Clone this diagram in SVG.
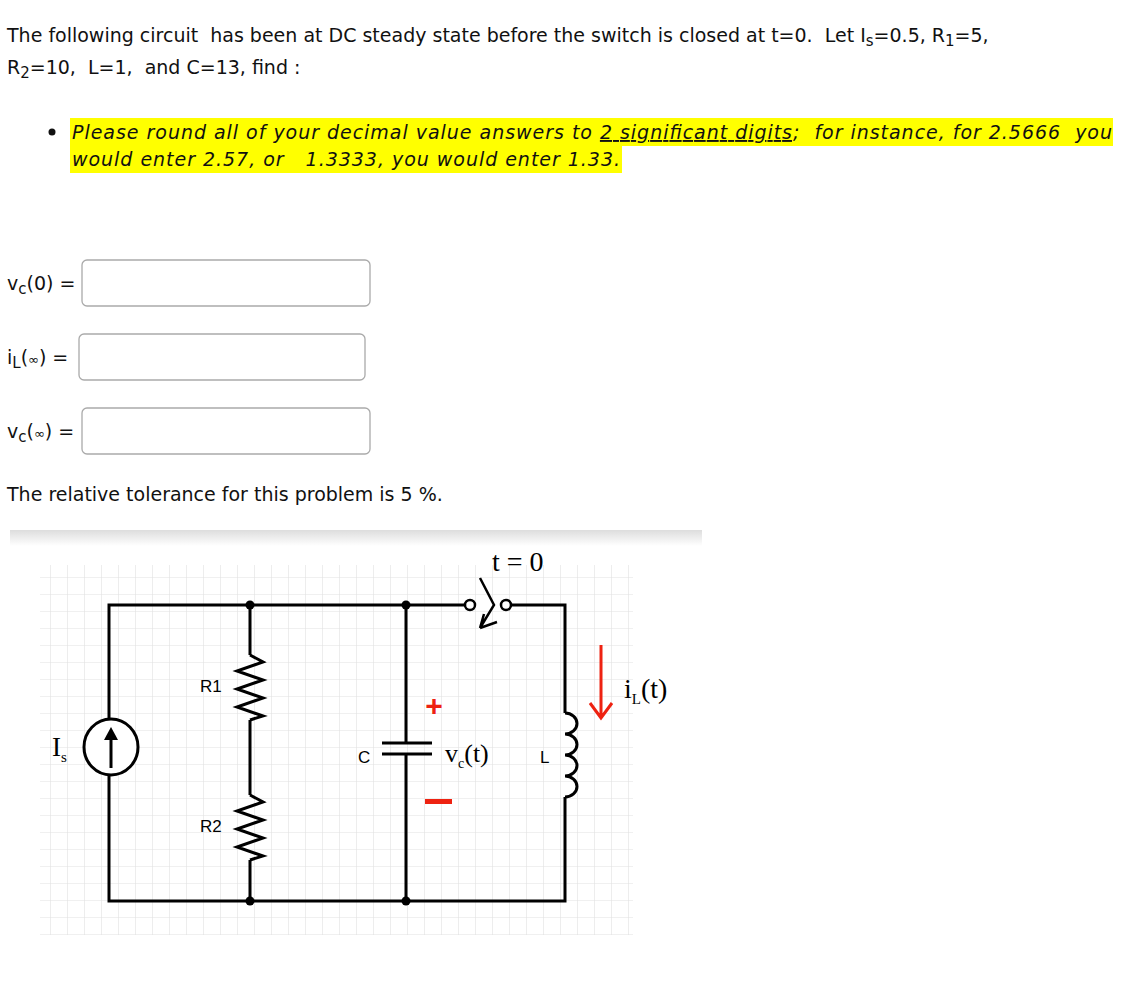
<svg xmlns="http://www.w3.org/2000/svg" width="1134" height="998" viewBox="0 0 1134 998">
<style>
.t{font-family:"DejaVu Sans",sans-serif;font-size:19px;fill:#111;white-space:pre}
.it{font-style:italic}
.box{fill:#fff;stroke:#aaa;stroke-width:1.3}
.w{stroke:#000;stroke-width:3;fill:none}
.g{stroke:#e2e2e2;stroke-width:1.2}
.ser{font-family:"Liberation Serif",serif;fill:#000}
.sans{font-family:"Liberation Sans",Arial,sans-serif;fill:#000;font-size:17px}
</style>
<defs>
<linearGradient id="hd" x1="0" y1="0" x2="0" y2="1"><stop offset="0" stop-color="#ddd"/><stop offset="1" stop-color="#fff"/></linearGradient>
<pattern id="grid" width="17" height="17" patternUnits="userSpaceOnUse"><path d="M17 0V17H0" class="g" fill="none"/></pattern>
</defs>
<rect width="1134" height="998" fill="#fff"/>
<text class="t" x="7" y="42" xml:space="preserve">The following circuit  has been at DC steady state before the switch is closed at t=0.  Let I<tspan font-size="15" dy="4">s</tspan><tspan dy="-4">=0.5, R</tspan><tspan font-size="15" dy="4">1</tspan><tspan dy="-4">=5,</tspan></text>
<text class="t" x="7" y="74" xml:space="preserve">R<tspan font-size="15" dy="4">2</tspan><tspan dy="-4">=10,  L=1,  and C=13, find :</tspan></text>
<circle cx="52" cy="132" r="3.5" fill="#111"/>
<rect x="70" y="118" width="1043" height="28" fill="#ff0"/>
<rect x="70" y="146" width="552" height="27" fill="#ff0"/>
<text class="t it" x="72" y="139" xml:space="preserve" textLength="1040" lengthAdjust="spacing">Please round all of your decimal value answers to <tspan text-decoration="underline">2 significant digits</tspan>;  for instance, for 2.5666  you</text>
<text class="t it" x="72" y="166" xml:space="preserve" textLength="548" lengthAdjust="spacing">would enter 2.57, or   1.3333, you would enter 1.33.</text>
<g id="q1"><text class="t" x="7" y="290">v<tspan font-size="15" dy="4">c</tspan><tspan dy="-4">(0) =</tspan></text><rect class="box" x="82" y="260" width="288" height="46" rx="5"/></g>
<g id="q2"><text class="t" x="7" y="364">i<tspan font-size="15" dy="4">L</tspan><tspan dy="-4">(<tspan font-size="13">∞</tspan>) =</tspan></text><rect class="box" x="79" y="334" width="286" height="46" rx="5"/></g>
<g id="q3"><text class="t" x="7" y="438">v<tspan font-size="15" dy="4">c</tspan><tspan dy="-4">(<tspan font-size="13">∞</tspan>) =</tspan></text><rect class="box" x="82" y="408" width="288" height="46" rx="5"/></g>
<text class="t" x="7" y="501">The relative tolerance for this problem is 5 %.</text>
<rect x="10" y="530" width="692" height="16" fill="url(#hd)"/>
<rect x="40" y="565" width="593" height="370" fill="url(#grid)"/>
<g id="wires">
<path class="w" d="M466 605H109V901H565V797M565 713V605H509M250 605V655M250 720V795M250 860V901M406 605V743M406 754V901"/>
<circle cx="250" cy="605" r="4.5"/><circle cx="406" cy="605" r="4.5"/><circle cx="250" cy="901" r="4.5"/><circle cx="406" cy="901" r="4.5"/>
</g>
<g id="Is"><ellipse cx="111" cy="747" rx="27" ry="28" fill="#fff" stroke="#000" stroke-width="3"/><path d="M111 768V735" class="w"/><path d="M104 740L111 727L118 740Z"/><text class="ser" x="52" y="756" font-size="27">I<tspan font-size="15" dy="6">s</tspan></text></g>
<g id="R1"><path class="w" d="M250 655l13 7-26 9 26 9-26 9 26 9-26 9 26 9-13 4"/><text class="sans" x="200" y="692">R1</text></g>
<g id="R2"><path class="w" d="M250 795l13 7-26 9 26 9-26 9 26 9-26 9 26 9-13 4"/><text class="sans" x="200" y="832">R2</text></g>
<g id="C"><path class="w" d="M382 743H432M382 754H432"/><text class="sans" x="358" y="763">C</text>
<text x="434" y="716" fill="#e21" font-family="Liberation Sans,sans-serif" font-size="30" font-weight="bold" text-anchor="middle">+</text>
<rect x="425" y="799" width="27" height="5" fill="#e21"/>
<text class="ser" x="445" y="762" font-size="26">v<tspan font-size="14" dy="6">c</tspan><tspan dy="-6">(t)</tspan></text></g>
<g id="L"><path class="w" d="M565 713a12 10.5 0 0 1 0 21a12 10.5 0 0 1 0 21a12 10.5 0 0 1 0 21a12 10.5 0 0 1 0 21"/><text class="sans" x="540" y="763">L</text></g>
<g id="iL"><path d="M601 645V716M590 703L601 718L612 703" stroke="#e21" stroke-width="3" fill="none"/><text class="ser" x="624" y="698" font-size="28">i<tspan font-size="15" dy="6">L</tspan><tspan dy="-6">(t)</tspan></text></g>
<g id="SW"><circle cx="470" cy="605" r="5" fill="#fff" stroke="#000" stroke-width="2.5"/><circle cx="506" cy="605" r="5" fill="#fff" stroke="#000" stroke-width="2.5"/>
<path d="M480 578L494 605L480 628M480 628L497 622M480 628L484 614" stroke="#000" stroke-width="2.5" fill="none"/>
<text class="ser" x="492" y="571" font-size="28">t = 0</text></g>
</svg>
